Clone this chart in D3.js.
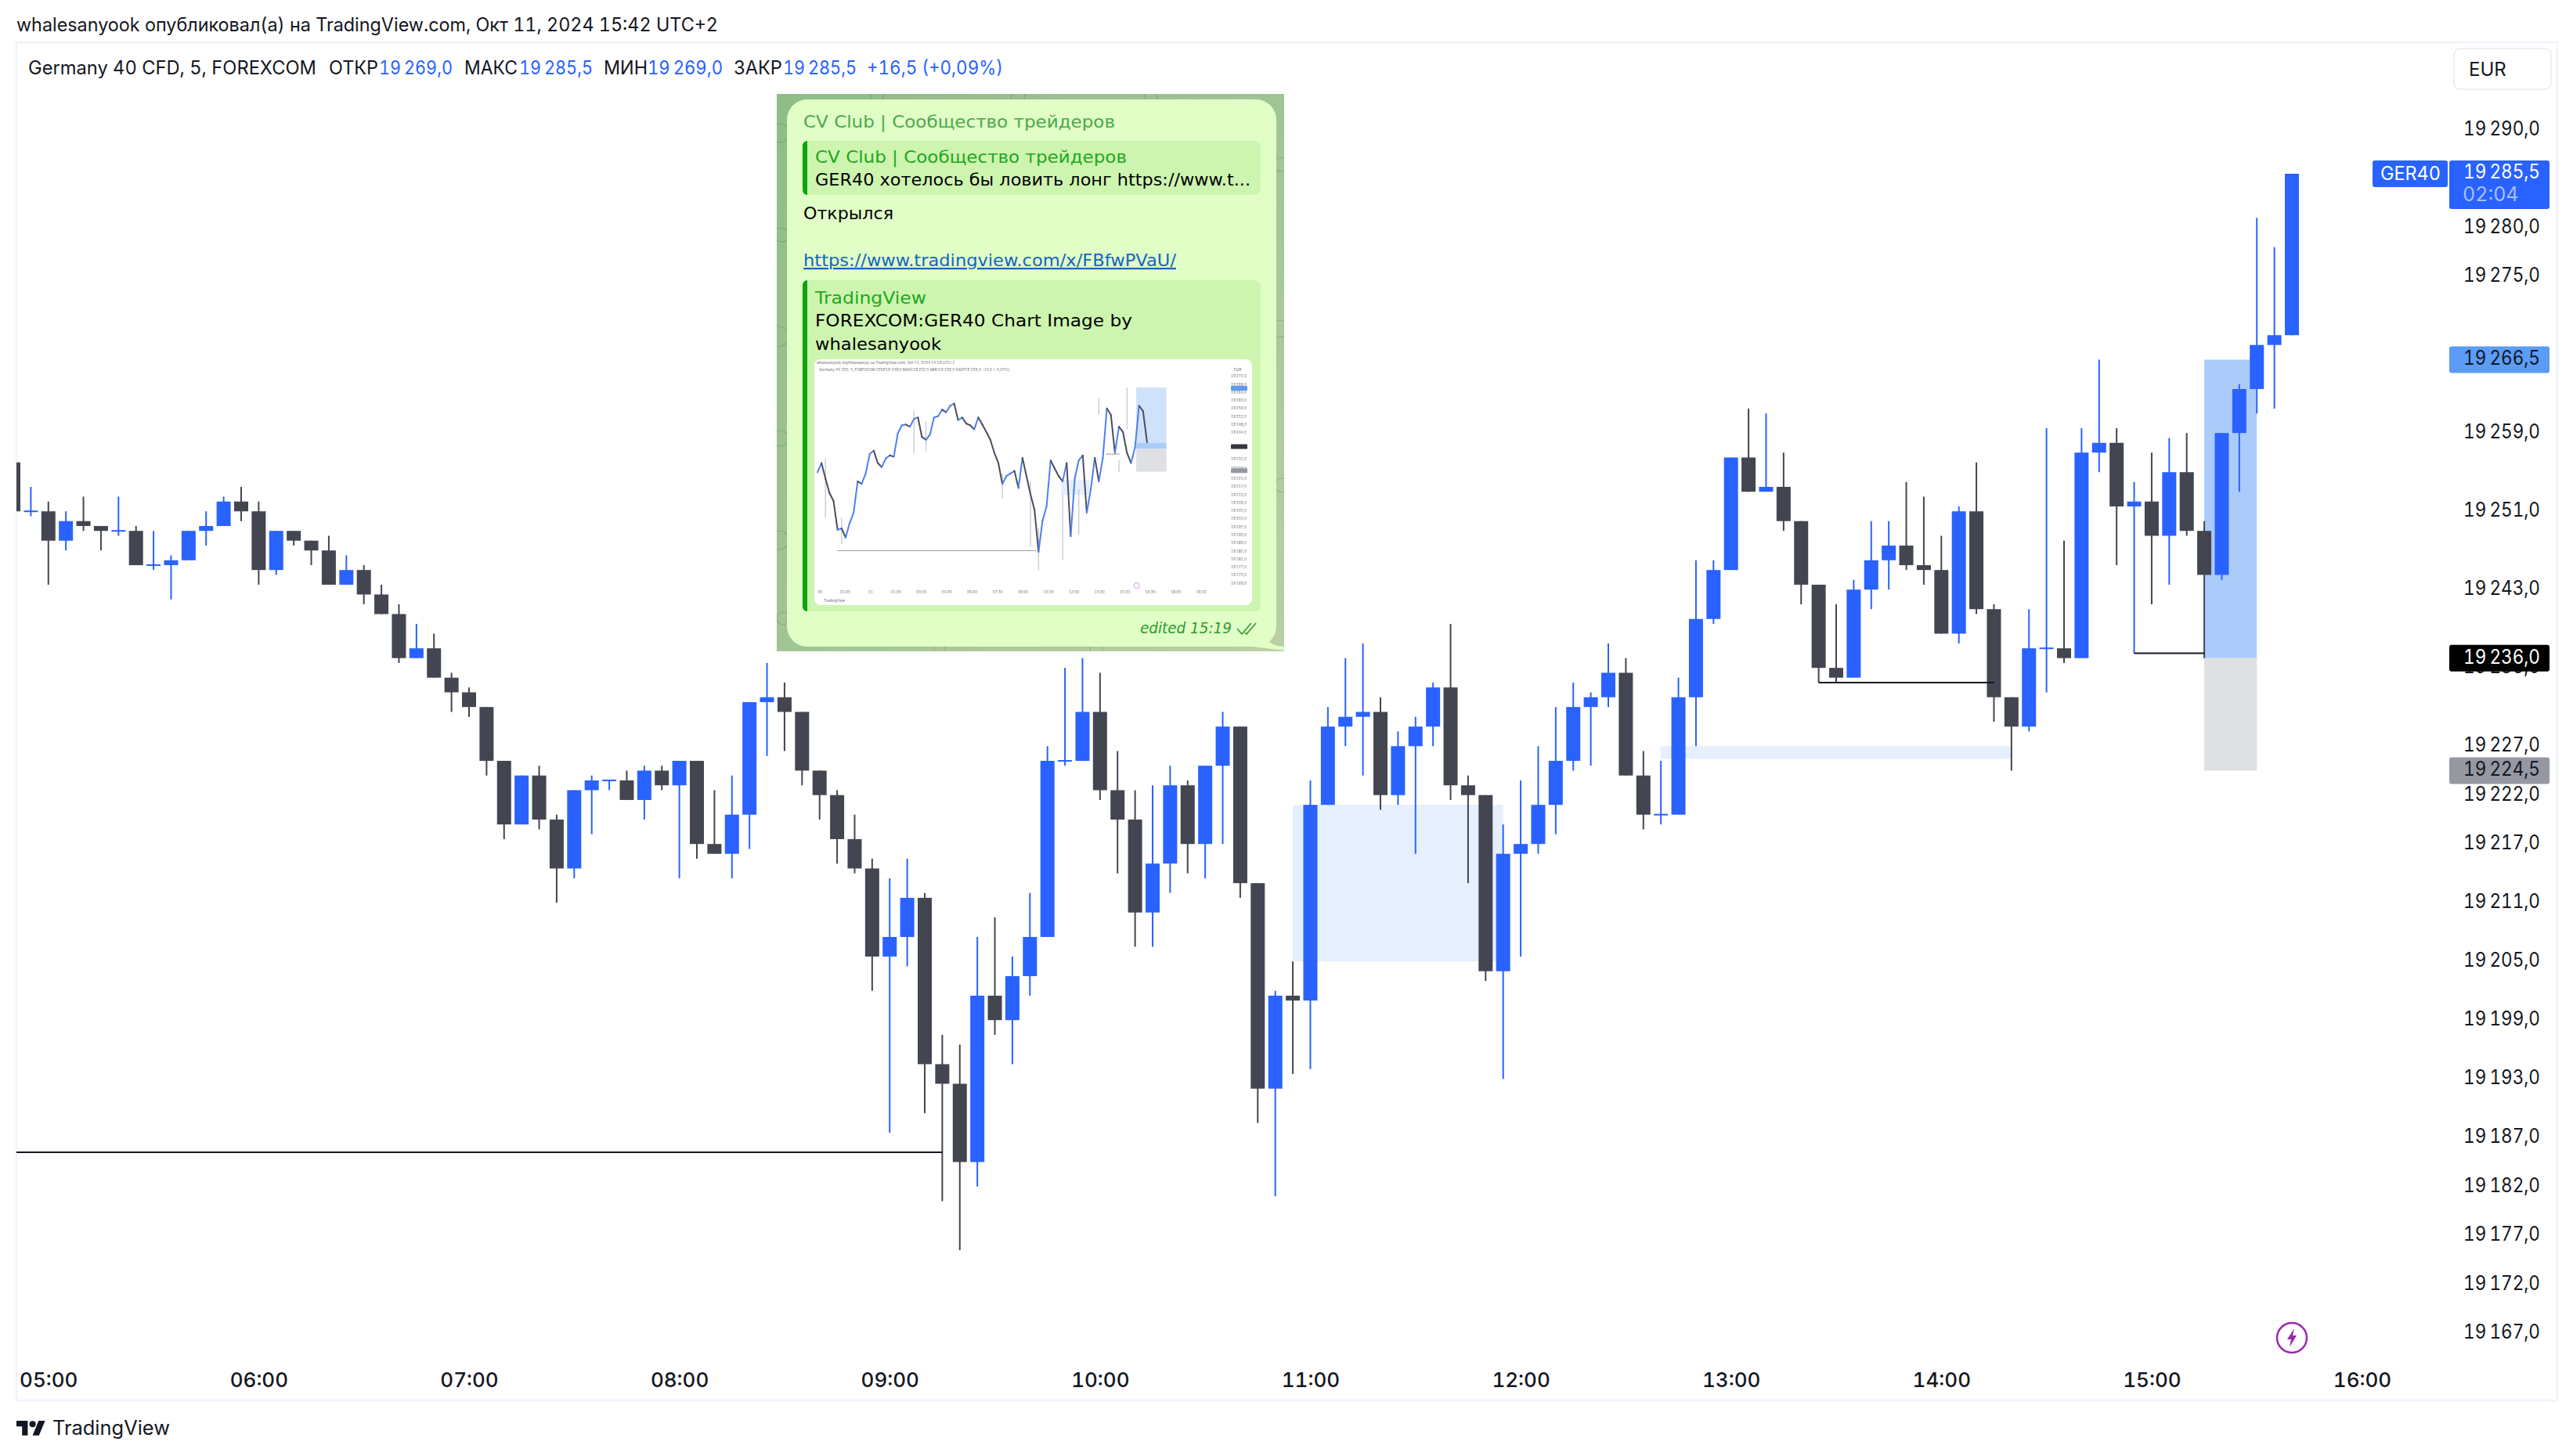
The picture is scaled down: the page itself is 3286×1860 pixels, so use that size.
<!DOCTYPE html>
<html>
<head>
<meta charset="utf-8">
<title>Germany 40 CFD, 5, FOREXCOM</title>
<script src="https://cdn.jsdelivr.net/npm/d3@7"></script>
<style>
  html, body { margin: 0; padding: 0; background: #fff; }
  svg { display: block; }
  text { font-family: Inter, "Noto Sans", sans-serif; fill: #131722; font-variant-numeric: tabular-nums; }
  .tg text { font-family: "DejaVu Sans", sans-serif; }
  .mini text { font-family: Inter, sans-serif; fill: #6a6d78; font-size: 4.6px; }
</style>
</head>
<body>
<svg id="chart" width="3286" height="1860"></svg>
<script>
// 5 minute candles
const opens = [19256,19251,19251,19248,19250,19249.5,19249,19249,19245.5,19245.5,
  19246,19249,19249.5,19252,19251,19245,19249,19248,19247,19243.5,
  19245,19242.5,19240.5,19236,19237,19234,19232.5,19231,19225.5,19219,
  19224,19219.5,19214.5,19222.5,19223.5,19223.5,19221.5,19224.5,19223,19225.5,
  19217,19216,19220,19231.5,19232,19230.5,19224.5,19222,19217.5,19214.5,
  19205.5,19207.5,19211.5,19194.5,19192.5,19184.5,19201.5,19199,19203.5,19207.5,
  19225.5,19225.5,19230.5,19222.5,19219.5,19210,19215,19223,19217,19225,
  19229,19213,19192,19201.5,19201,19221,19229,19230,19230.5,19222,
  19227,19229,19233,19223,19222,19204,19216,19217,19221,19225.5,
  19231,19232,19234.5,19224,19220,19220,19232,19240,19245,19256.5,
  19253,19253.5,19250,19243.5,19235,19234,19243,19246,19247.5,19245.5,
  19245,19238.5,19251,19241,19232,19229,19237,19237,19236,19257,
  19258,19251.5,19252,19248.5,19255,19249,19244.5,19259,19263.5,19268,19269];
const highs = [19256,19253.5,19252,19251,19252.5,19249.5,19252.5,19249.5,19249,19246.5,
  19249,19251,19252.5,19253.5,19252,19249,19249,19248,19248.5,19246.5,
  19245.5,19243.5,19241.5,19239.5,19238.5,19234.5,19233,19231,19225.5,19224,
  19225,19220,19222.5,19224,19223.5,19224.5,19225,19225,19225.5,19225.5,
  19222.5,19224,19231.5,19235.5,19233.5,19230.5,19224.5,19222.5,19220,19215.5,
  19213.5,19215.5,19212,19197.5,19196.5,19207.5,19209.5,19205.5,19212,19227,
  19235,19236,19234.5,19226.5,19222.5,19223,19225,19223.5,19225,19230.5,
  19229,19213,19202,19205,19223.5,19231,19236,19237.5,19232,19228.5,
  19230,19233.5,19239.5,19224,19222,19219,19223.5,19227,19231,19233.5,
  19232.5,19237.5,19236,19226.5,19225.5,19234,19246,19246,19256.5,19261.5,
  19261,19257,19250,19243.5,19241.5,19244,19250,19250,19254,19252.5,
  19248.5,19251.5,19256,19241.5,19232,19241,19259.5,19248,19259.5,19266.5,
  19259.5,19254,19257,19258.5,19259,19250,19259,19264,19281,19278,19285.5];
const lows = [19251,19250.5,19243.5,19247,19249,19247,19248.5,19245.5,19245,19242,
  19246,19247.5,19249.5,19250,19243.5,19244.5,19247.5,19245.5,19243.5,19243.5,
  19241.5,19240.5,19235.5,19236,19234,19230.5,19230,19224,19217.5,19219,
  19218.5,19211,19213.5,19218,19222.5,19221.5,19219.5,19222.5,19213.5,19215.5,
  19216,19213.5,19216.5,19226,19226.5,19223,19219.5,19215,19214,19202,
  19187.5,19204.5,19189.5,19180.5,19175.5,19182,19197.5,19194.5,19201.5,19207.5,
  19225,19225.5,19221.5,19214,19206.5,19206.5,19212,19214,19213.5,19217,
  19211.5,19188.5,19181,19193.5,19194,19221,19227,19224,19220.5,19221,
  19216,19227,19221.5,19213,19203,19193,19205.5,19216,19218,19224.5,
  19225,19231,19224,19218.5,19219,19220,19227,19239.5,19245,19253,
  19253,19249,19241.5,19233.5,19233.5,19234,19241,19243,19245,19243.5,
  19238.5,19237.5,19240.5,19229.5,19224.5,19228.5,19232.5,19235.5,19236,19255,
  19245.5,19236.5,19241.5,19243.5,19248.5,19236,19244,19253,19261,19261.5,19269];
const closes = [19251,19251,19248,19250,19249.5,19249,19249,19245.5,19245.5,19246,
  19249,19249.5,19252,19251,19245,19249,19248,19247,19243.5,19245,
  19242.5,19240.5,19236,19237,19234,19232.5,19231,19225.5,19219,19224,
  19219.5,19214.5,19222.5,19223.5,19223.5,19221.5,19224.5,19223,19225.5,19217,
  19216,19220,19231.5,19232,19230.5,19224.5,19222,19217.5,19214.5,19205.5,
  19207.5,19211.5,19194.5,19192.5,19184.5,19201.5,19199,19203.5,19207.5,19225.5,
  19225.5,19230.5,19222.5,19219.5,19210,19215,19223,19217,19225,19229,
  19213,19192,19201.5,19201,19221,19229,19230,19230.5,19222,19227,
  19229,19233,19223,19222,19204,19216,19217,19221,19225.5,19231,
  19232,19234.5,19224,19220,19220,19232,19240,19245,19256.5,19253,
  19253.5,19250,19243.5,19235,19234,19243,19246,19247.5,19245.5,19245,
  19238.5,19251,19241,19232,19229,19237,19237,19236,19257,19258,
  19251.5,19252,19248.5,19255,19249,19244.5,19259,19263.5,19268,19269,19285.5];

// price axis labels as printed, and one hour of candles per time label
const priceTicks = [19290,19280,19275,19259,19251,19243,19235,19227,19222,19217,19211,19205,19199,19193,19187,19182,19177,19172,19167];
const timeTicks = [2,14,26,38,50,62,74,86,98,110,122,134];
const timeLabels = ["05:00","06:00","07:00","08:00","09:00","10:00","11:00","12:00","13:00","14:00","15:00","16:00"];

// drawings: [start candle, end candle, price]
const hLines = [[-1,53,19185.5],[103,113,19233.5],[121,125,19236.5]];
// [start candle, end candle, top price, bottom price]
const imbalanceZones = [[73,85,19221,19205],[94,114,19227,19225.7]];
const longPosition = { start: 125, end: 128, target: 19266.5, entry: 19236, stop: 19224.5 };

// telegram screenshot: small chart sampled every few candles
const miniCloses = [19224.2,19228.8,19221,19213.8,19209.9,19195.6,19196.3,19191.7,19198.9,19204.1,
  19219.7,19218.4,19223.6,19233.3,19235,19228.8,19226.8,19231.1,19232.6,19232,
  19243.7,19247.6,19248,19246.9,19250.8,19251.5,19241.7,19240.4,19243,19251.5,
  19252.1,19255.4,19254.1,19257.3,19258.4,19250.2,19251.5,19248.5,19247.6,19245.6,
  19251.5,19248,19244.3,19240.4,19233.9,19228.8,19218.4,19222.3,19223.6,19224.9,
  19216.4,19231.4,19222.3,19213.2,19205.4,19184.6,19200.2,19207.3,19230.1,19226.2,
  19222.3,19219.7,19228.8,19192.4,19221,19230.1,19232.6,19204.1,19215.8,19231.4,
  19219.7,19231.4,19256,19252.8,19233.9,19246.9,19244.3,19233.9,19228.8,19236.5,
  19257.3,19254.7,19239.1];
const miniWickAt = [2,6,24,27,46,53,55,61,65,70,77,75];
const miniWickHigh = [19231.4,19201.5,19254.7,19249.5,19223.6,19219.7,19196.3,19213.2,19215.8,19261.2,19266.4,19230.1];
const miniWickLow = [19201.5,19188.5,19233.9,19234.6,19211.2,19187.2,19175.5,19180.7,19193,19252.8,19245.6,19224.2];
const miniTicks = [19272,19268,19264,19260,19256,19252,19248,19244,19231,19226,19221,19217,19213,19209,19205,19201,19197,19193,19189,19185,19181,19177,19173,19169];
const miniTimes = [":30","21:00","11","01:30","03:00","04:30","06:00","07:30","09:00","10:30","12:00","13:30","15:00","16:30","18:00","19:30"];

const BLUE = "#2962FF";
const DARK = "#434651";
const INK = "#131722";
const PRICE_W = 98; // printed width of a price label

const svg = d3.select("#chart");
const fmt = d3.formatLocale({ decimal: ",", thousands: "\u2009", grouping: [3], currency: ["", ""] }).format(",.1f");

const x = d3.scaleLinear().domain([0, 130]).range([17, 2927]);
const y = d3.scaleLinear().domain([19290, 19167]).range([165.7, 1703.2]);

function label(parent, px, py, str, opts = {}) {
  const t = parent.append("text")
    .attr("x", px).attr("y", py)
    .attr("font-size", opts.size || 24)
    .attr("font-weight", opts.weight || 400)
    .attr("text-anchor", opts.anchor || "start")
    .style("fill", opts.fill || INK)
    .text(str);
  if (opts.width) t.attr("textLength", opts.width).attr("lengthAdjust", "spacingAndGlyphs");
  if (opts.italic) t.attr("font-style", "italic");
  if (opts.underline) t.attr("text-decoration", "underline");
  return t;
}

// frame and header
svg.append("rect").attr("x", 21).attr("y", 54).attr("width", 3245).attr("height", 1735)
  .attr("fill", "#fff").attr("stroke", "#F0F3FA").attr("stroke-width", 2.5);

label(svg, 21, 40, "whalesanyook опубликовал(а) на TradingView.com, Окт 11, 2024 15:42 UTC+2", { width: 896 });

const last = opens.length - 1;
const legendParts = [
  { x: 36, w: 368, s: "Germany 40 CFD, 5, FOREXCOM" },
  { x: 420, w: 63, s: "ОТКР" },
  { x: 484, w: 94, s: fmt(opens[last]), fill: BLUE },
  { x: 593, w: 68, s: "МАКС" },
  { x: 663, w: 94, s: fmt(highs[last]), fill: BLUE },
  { x: 771, w: 56, s: "МИН" },
  { x: 827, w: 96, s: fmt(lows[last]), fill: BLUE },
  { x: 937, w: 62, s: "ЗАКР" },
  { x: 1000, w: 94, s: fmt(closes[last]), fill: BLUE },
  { x: 1107, w: 174, s: "+16,5 (+0,09%)", fill: BLUE }
];
legendParts.forEach(p => label(svg, p.x, 95, p.s, { width: p.w, fill: p.fill, size: 24 }));

// pane clip so the first candle is cut at the frame
svg.append("clipPath").attr("id", "pane").append("rect")
  .attr("x", 21).attr("y", 54).attr("width", 3100).attr("height", 1735);
const pane = svg.append("g").attr("clip-path", "url(#pane)");

// zones sit behind the candles
pane.selectAll(".zone").data(imbalanceZones).enter().append("rect")
  .attr("class", "zone")
  .attr("x", d => x(d[0])).attr("width", d => x(d[1]) - x(d[0]))
  .attr("y", d => y(d[2])).attr("height", d => y(d[3]) - y(d[2]))
  .attr("fill", "#E5EFFD");

const pos = longPosition;
pane.append("rect").attr("x", x(pos.start)).attr("width", x(pos.end) - x(pos.start))
  .attr("y", y(pos.target)).attr("height", y(pos.entry) - y(pos.target)).attr("fill", "#ABCCFA");
pane.append("rect").attr("x", x(pos.start)).attr("width", x(pos.end) - x(pos.start))
  .attr("y", y(pos.entry)).attr("height", y(pos.stop) - y(pos.entry)).attr("fill", "#DFE0E3");

// candles
const candles = pane.selectAll(".candle").data(d3.range(opens.length)).enter().append("g").attr("class", "candle");
const colorOf = i => closes[i] >= opens[i] ? BLUE : DARK;
candles.append("line")
  .attr("x1", i => x(i)).attr("x2", i => x(i))
  .attr("y1", i => y(highs[i])).attr("y2", i => y(lows[i]))
  .attr("stroke", colorOf).attr("stroke-width", 2);
candles.append("rect")
  .attr("x", i => x(i) - 9).attr("width", 18)
  .attr("y", i => y(Math.max(opens[i], closes[i])) - (opens[i] === closes[i] ? 1 : 0))
  .attr("height", i => Math.max(2, Math.abs(y(opens[i]) - y(closes[i]))))
  .attr("fill", colorOf);

pane.selectAll(".hline").data(hLines).enter().append("line")
  .attr("class", "hline")
  .attr("x1", d => x(d[0])).attr("x2", d => x(d[1]))
  .attr("y1", d => y(d[2])).attr("y2", d => y(d[2]))
  .attr("stroke", INK).attr("stroke-width", 2);

// axes
const yAxis = svg.append("g").attr("transform", "translate(3244,0)")
  .call(d3.axisRight(y).tickValues(priceTicks).tickSize(0).tickPadding(0).tickFormat(fmt));
yAxis.select(".domain").remove();
yAxis.selectAll("text").attr("text-anchor", "end").attr("font-family", "Inter")
  .attr("font-size", 25).attr("dy", "0.26em")
  .attr("textLength", PRICE_W).attr("lengthAdjust", "spacingAndGlyphs").style("fill", INK);

const xAxis = svg.append("g").attr("transform", "translate(0,1754)")
  .call(d3.axisBottom(x).tickValues(timeTicks).tickSize(0).tickPadding(0).tickFormat((d, i) => timeLabels[i]));
xAxis.select(".domain").remove();
xAxis.selectAll("text").attr("font-family", "Inter").attr("font-size", 26)
  .attr("font-weight", 500).style("fill", INK);

// currency box
svg.append("rect").attr("x", 3134).attr("y", 62).attr("width", 124).attr("height", 52).attr("rx", 8)
  .attr("fill", "#fff").attr("stroke", "#E9EBF2").attr("stroke-width", 1.5);
label(svg, 3153, 97, "EUR", { size: 24 });

// price tags
const tagX = 3128, tagW = 128, tagH = 34;
const tags = [
  { price: pos.target, fill: "#5B9CF6", text: "#131722" },
  { price: pos.entry, fill: "#000", text: "#fff" },
  { price: pos.stop, fill: "#9598A1", text: "#131722" }
];
tags.forEach(t => {
  svg.append("rect").attr("x", tagX).attr("y", y(t.price) - tagH / 2).attr("width", tagW).attr("height", tagH)
    .attr("rx", 3).attr("fill", t.fill);
  label(svg, 3244, y(t.price) + 7, fmt(t.price), { size: 25, anchor: "end", fill: t.text, width: PRICE_W });
});
const py = y(closes[last]);
svg.append("rect").attr("x", 3030).attr("y", py - 17).attr("width", 96).attr("height", 34).attr("rx", 3).attr("fill", BLUE);
label(svg, 3040, py + 8, "GER40", { size: 24, fill: "#fff", width: 77 });
svg.append("rect").attr("x", tagX).attr("y", py - 17).attr("width", tagW).attr("height", 62).attr("rx", 3).attr("fill", BLUE);
label(svg, 3244, py + 6, fmt(closes[last]), { size: 25, anchor: "end", fill: "#fff", width: PRICE_W });
label(svg, 3145, py + 35, "02:04", { size: 25, fill: "rgba(255,255,255,0.6)" });

// lightning mark
const bolt = svg.append("g").attr("transform", "translate(2927,1709)");
bolt.append("circle").attr("r", 19).attr("fill", "#fff").attr("stroke", "#9C27B0").attr("stroke-width", 2.5);
bolt.append("path").attr("d", "M3,-12 L-6,2 L-1,2 L-3,12 L6,-3 L1,-3 Z").attr("fill", "#9C27B0");

// footer
svg.append("path").attr("transform", "translate(21,1811) scale(1.03)")
  .attr("d", "M14 22H7V11H0V4h14v18zM28 22h-8l7.5-18h8L28 22z").attr("fill", INK);
svg.append("circle").attr("cx", 21 + 20 * 1.03).attr("cy", 1811 + 8 * 1.03).attr("r", 4.1).attr("fill", INK);
label(svg, 67, 1833, "TradingView", { size: 25, width: 150 });

// telegram screenshot pasted over the chart
const tg = svg.append("g").attr("class", "tg");
const defs = svg.append("defs");
const bg = defs.append("linearGradient").attr("id", "tgbg")
  .attr("x1", 0).attr("y1", 0).attr("x2", 1).attr("y2", 1);
bg.append("stop").attr("offset", 0).attr("stop-color", "#8FBC86");
bg.append("stop").attr("offset", 0.55).attr("stop-color", "#A3C597");
bg.append("stop").attr("offset", 1).attr("stop-color", "#BBD0A4");
defs.append("clipPath").attr("id", "tgclip").append("rect")
  .attr("x", 992).attr("y", 120).attr("width", 648).attr("height", 712);
tg.append("rect").attr("x", 992).attr("y", 120).attr("width", 648).attr("height", 712).attr("fill", "url(#tgbg)");
// wallpaper doodles that show round the bubble
const doodles = tg.append("g").attr("clip-path", "url(#tgclip)");
[[996,170,12],[998,300,9],[994,430,13],[997,560,10],[995,690,12],[1000,790,8],[1120,123,8],[1300,122,9],[1470,124,8],[1636,210,9],[1634,420,11],[1637,620,9],[1200,829,7],[1400,830,8]].forEach(c => {
  doodles.append("circle").attr("cx", c[0]).attr("cy", c[1]).attr("r", c[2])
    .attr("fill", "none").attr("stroke", "rgba(60,110,60,0.28)").attr("stroke-width", 1.2);
});
tg.append("rect").attr("x", 1005).attr("y", 127).attr("width", 625).attr("height", 699).attr("rx", 26).attr("fill", "#E0FEC6");
tg.append("path").attr("d", "M1612,812 Q1624,826 1640,826 L1640,831 L1600,826 Z").attr("fill", "#E0FEC6");

function quote(top, h) {
  tg.append("rect").attr("x", 1025).attr("y", top).attr("width", 585).attr("height", h).attr("rx", 8).attr("fill", "#CDF5B0");
  tg.append("path").attr("d", `M1031,${top} a6,6 0 0 0 -6,6 v${h - 12} a6,6 0 0 0 6,6 z`).attr("fill", "#0FA30F");
}
quote(180, 69);
quote(358, 423);
label(tg, 1026, 163, "CV Club | Сообщество трейдеров", { size: 22, width: 398, fill: "#4CA84C" });
label(tg, 1041, 208, "CV Club | Сообщество трейдеров", { size: 22, width: 398, fill: "#1DA81D" });
label(tg, 1041, 237, "GER40 хотелось бы ловить лонг  https://www.t...", { size: 22, width: 556, fill: "#000" });
label(tg, 1026, 280, "Открылся", { size: 22, width: 115, fill: "#000" });
label(tg, 1026, 340, "https://www.tradingview.com/x/FBfwPVaU/", { size: 22, width: 476, fill: "#1565C0", underline: true });
label(tg, 1041, 388, "TradingView", { size: 22, width: 142, fill: "#1DA81D" });
label(tg, 1041, 417, "FOREXCOM:GER40 Chart Image by", { size: 22, width: 405, fill: "#000" });
label(tg, 1041, 447, "whalesanyook", { size: 22, width: 161, fill: "#000" });
label(tg, 1456, 809, "edited 15:19", { size: 20, width: 117, fill: "#2E9B2E", italic: true });
tg.append("path").attr("d", "M1580,803 l6,7 l12,-14 M1590,808 l2,2 l12,-14")
  .attr("fill", "none").attr("stroke", "#2E9B2E").attr("stroke-width", 1.6);

// small chart inside the screenshot
const mini = tg.append("g").attr("class", "mini");
mini.append("rect").attr("x", 1040).attr("y", 459).attr("width", 559).attr("height", 314).attr("rx", 8).attr("fill", "#fff");
const soft = mini.append("g").style("filter", "blur(0.6px)");
const mx = d3.scaleLinear().domain([0, 78]).range([1044, 1444.4]);
const my = d3.scaleLinear().domain([19272, 19169]).range([480.7, 745]);

[[60.6, 67.7, 19220.3, 19212.9, "#E5EFFD"], [79.3, 86.8, 19266.4, 19238.9, "#CFE2FB"],
 [79.3, 86.8, 19238.9, 19235.8, "#A9CCF8"], [79.3, 86.8, 19235.8, 19224.5, "#DFE0E3"]].forEach(z => {
  soft.append("rect").attr("x", mx(z[0])).attr("width", mx(z[1]) - mx(z[0]))
    .attr("y", my(z[2])).attr("height", my(z[3]) - my(z[2])).attr("fill", z[4]);
});
[[4.9, 54.4, 19185.2], [71.8, 75.2, 19233.3]].forEach(l => {
  soft.append("line").attr("x1", mx(l[0])).attr("x2", mx(l[1])).attr("y1", my(l[2])).attr("y2", my(l[2]))
    .attr("stroke", "#9a9ca5").attr("stroke-width", 1);
});
soft.selectAll(".wick").data(miniWickAt).enter().append("line").attr("class", "wick")
  .attr("x1", d => mx(d)).attr("x2", d => mx(d))
  .attr("y1", (d, i) => my(miniWickHigh[i])).attr("y2", (d, i) => my(miniWickLow[i]))
  .attr("stroke", "#c9ccd6").attr("stroke-width", 1.4);
soft.selectAll(".step").data(miniCloses.slice(1)).enter().append("line").attr("class", "step")
  .attr("x1", (d, i) => mx(i)).attr("x2", (d, i) => mx(i + 1))
  .attr("y1", (d, i) => my(miniCloses[i])).attr("y2", d => my(d))
  .attr("stroke", (d, i) => d >= miniCloses[i] ? "#4F7DF5" : "#4b4e5e")
  .attr("stroke-linecap", "round")
  .attr("stroke-width", 2);

mini.append("text").attr("x", 1043).attr("y", 465).text("whalesanyook опубликовал(а) на TradingView.com, Окт 11, 2024 15:19 UTC+2");
mini.append("text").attr("x", 1046).attr("y", 474).text("Germany 40 CFD, 5, FOREXCOM  ОТКР19 249,0  МАКС19 250,5  МИН19 236,0  ЗАКР19 239,0  −10,0 (−0,05%)");
mini.append("text").attr("x", 1576).attr("y", 474).text("EUR");
mini.selectAll(".mtick").data(miniTicks).enter().append("text").attr("class", "mtick")
  .attr("x", 1592).attr("y", d => my(d) + 1.6).attr("text-anchor", "end").text(d => fmt(d));
mini.selectAll(".mtime").data(miniTimes).enter().append("text").attr("class", "mtime")
  .attr("x", (d, i) => 1046.7 + i * 32.5).attr("y", 758).attr("text-anchor", "middle").text(d => d);
mini.append("text").attr("x", 1052).attr("y", 769).text("TradingView");
[[19266, "#5B9CF6"], [19237, "#33363F"], [19225, "#9598A1"]].forEach(t => {
  mini.append("rect").attr("x", 1572).attr("y", my(t[0]) - 3).attr("width", 21).attr("height", 6).attr("rx", 1).attr("fill", t[1]);
});
mini.append("circle").attr("cx", 1451.7).attr("cy", 748).attr("r", 3.6).attr("fill", "#fff").attr("stroke", "#C77ED6").attr("stroke-width", 0.8);
</script>
</body>
</html>
